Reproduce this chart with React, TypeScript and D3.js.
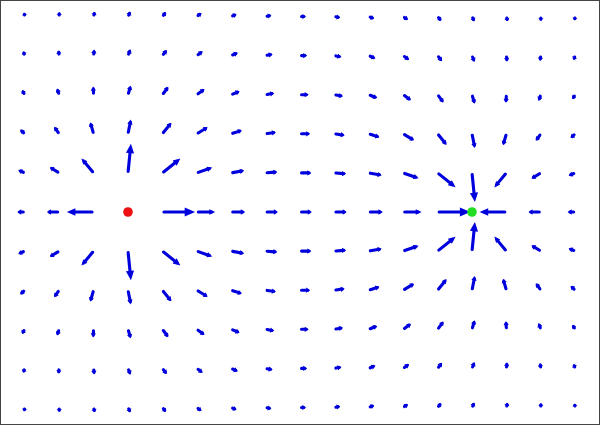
import * as React from 'react';
import * as d3 from 'd3';

// grid of sample points (data units)
const gridX = [-1.6, -1.4, -1.2, -1.0, -0.8, -0.6, -0.4, -0.2, 0, 0.2, 0.4, 0.6, 0.8, 1.0, 1.2, 1.4, 1.6];
const gridY = [1.0, 0.8, 0.6, 0.4, 0.2, 0, -0.2, -0.4, -0.6, -0.8, -1.0];

// point charges: source (+) and sink (-)
const chargeX = [-1, 1];
const chargeY = [0, 0];
const chargeQ = [1, -1];
const chargeColor = ['#ee1111', '#22dd22'];

const W = 600;
const H = 425;

const ARROW = '#0000dd';
const PX_PER_UNIT = 5.9; // quiver scale
const SHAFT = 3.1;

function field(x: number, y: number) {
  let u = 0, v = 0;
  chargeQ.forEach((q, i) => {
    const dx = x - chargeX[i], dy = y - chargeY[i];
    const r2 = dx * dx + dy * dy;
    u += q * dx / r2;
    v += q * dy / r2;
  });
  return [u, v];
}

function headPath(len: number) {
  // head along +x, tip at len; size grows with arrow length
  const hl = Math.min(len * 0.6, Math.max(4, 0.32 * len));
  const hw = Math.max(SHAFT + 2.2, 0.28 * len) / 2;
  const pts: [number, number][] = [[len - hl, -hw], [len, 0], [len - hl, hw]];
  return { d: d3.line()(pts) + 'Z', hl };
}

export default function App() {
  const x = d3.scaleLinear().domain([-1.6, 1.6]).range([24.8, 575.2]);
  const y = d3.scaleLinear().domain([1, -1]).range([16.5, 407.5]);

  const arrows: any[] = [];
  gridY.forEach((gy) => {
    gridX.forEach((gx) => {
      if (chargeX.some((cx, i) => Math.abs(cx - gx) < 1e-9 && Math.abs(chargeY[i] - gy) < 1e-9)) return;
      const [u, v] = field(gx, gy);
      const len = Math.hypot(u, v) * PX_PER_UNIT;
      const ang = Math.atan2(-v, u) * 180 / Math.PI;
      arrows.push({ px: x(gx), py: y(gy), len, ang });
    });
  });

  return (
    <div style={{ position: 'absolute', left: 0, top: 0 }}>
      <svg width={W} height={H} style={{ display: 'block' }}>
        <rect x={0} y={0} width={W} height={H} fill="white" />
        <g>
          {arrows.map((a, i) => {
            const h = headPath(a.len);
            return (
              <g key={i} transform={`translate(${a.px},${a.py}) rotate(${a.ang})`}>
                <line x1={SHAFT / 2} y1={0} x2={Math.max(SHAFT / 2, a.len - h.hl * 0.6)} y2={0}
                  stroke={ARROW} strokeWidth={SHAFT} strokeLinecap="round" />
                <path d={h.d} fill={ARROW} />
              </g>
            );
          })}
        </g>
        {chargeX.map((cx, i) => (
          <circle key={i} cx={x(cx)} cy={y(chargeY[i])} r={4.8} fill={chargeColor[i]} />
        ))}
        <rect x={0.5} y={0.5} width={W - 1} height={H - 1} fill="none" stroke="#444" strokeWidth={1} />
      </svg>
    </div>
  );
}
